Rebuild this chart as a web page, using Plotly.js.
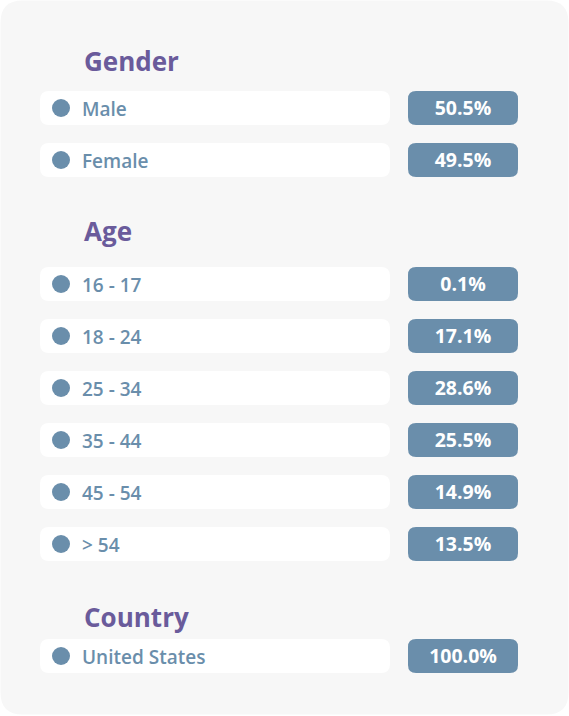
<!DOCTYPE html>
<html>
<head>
<meta charset="utf-8">
<script src="https://cdn.plot.ly/plotly-3.0.1.min.js"></script>
<style>
  html, body { margin: 0; padding: 0; background: #ffffff; }
  #chart { width: 569px; height: 716px; }
</style>
</head>
<body>
<div id="chart"></div>
<script>
// Datos
const groupTitles = ['Gender', 'Age', 'Country'];
const genderLabels = ['Male', 'Female'];
const genderValues = [50.5, 49.5];
const ageLabels = ['16 - 17', '18 - 24', '25 - 34', '35 - 44', '45 - 54', '> 54'];
const ageValues = [0.1, 17.1, 28.6, 25.5, 14.9, 13.5];
const countryLabels = ['United States'];
const countryValues = [100.0];

// Layout de las filas (unidades del eje = pixeles)
const headerY = [64, 234, 620];
const firstRowY = [108, 284, 656];
const rowStep = 52;
const rowH = 34;

const purple = '#6a5b9b';
const blue = '#6a8eab';
const font = 'Open Sans, sans-serif';

const groups = [
    [genderLabels, genderValues],
    [ageLabels, ageValues],
    [countryLabels, countryValues]
];

let rowYs = [], rowLabels = [], rowTexts = [];
groups.forEach((g, gi) => {
    g[0].forEach((lab, i) => {
        rowYs.push(firstRowY[gi] + i * rowStep);
        rowLabels.push(lab);
        rowTexts.push(g[1][i].toFixed(1) + '%');
    });
});

function roundRect(x0, y0, x1, y1, r) {
    return 'M' + (x0 + r) + ',' + y0 +
        ' L' + (x1 - r) + ',' + y0 + ' Q' + x1 + ',' + y0 + ' ' + x1 + ',' + (y0 + r) +
        ' L' + x1 + ',' + (y1 - r) + ' Q' + x1 + ',' + y1 + ' ' + (x1 - r) + ',' + y1 +
        ' L' + (x0 + r) + ',' + y1 + ' Q' + x0 + ',' + y1 + ' ' + x0 + ',' + (y1 - r) +
        ' L' + x0 + ',' + (y0 + r) + ' Q' + x0 + ',' + y0 + ' ' + (x0 + r) + ',' + y0 + ' Z';
}

// Tarjeta de fondo
let shapes = [{
    type: 'path', xref: 'x', yref: 'y', layer: 'below',
    path: roundRect(0.5, 0.5, 568.5, 714.5, 22),
    fillcolor: '#f7f7f7', line: {width: 0}
}];

rowYs.forEach(y => {
    shapes.push({
        type: 'path', xref: 'x', yref: 'y', layer: 'below',
        path: roundRect(40, y - rowH / 2, 390, y + rowH / 2, 9),
        fillcolor: '#ffffff', line: {width: 0}
    });
    shapes.push({
        type: 'path', xref: 'x', yref: 'y', layer: 'below',
        path: roundRect(408, y - rowH / 2, 518, y + rowH / 2, 8),
        fillcolor: blue, line: {width: 0}
    });
});

var headers = {
    x: groupTitles.map(() => 84),
    y: headerY,
    text: groupTitles,
    mode: 'text',
    type: 'scatter',
    textposition: 'middle right',
    textfont: {family: font, size: 26, color: purple, weight: 700},
    hoverinfo: 'skip'
};

var dots = {
    x: rowYs.map(() => 61),
    y: rowYs,
    mode: 'markers',
    type: 'scatter',
    marker: {size: 18, color: blue},
    hoverinfo: 'skip'
};

var labels = {
    x: rowYs.map(() => 82),
    y: rowYs.map(y => y + 3),
    text: rowLabels,
    mode: 'text',
    type: 'scatter',
    textposition: 'middle right',
    textfont: {family: font, size: 19, color: blue, weight: 600},
    hoverinfo: 'skip'
};

var valores = {
    x: rowYs.map(() => 463),
    y: rowYs.map(y => y + 2),
    text: rowTexts,
    mode: 'text',
    type: 'scatter',
    textposition: 'middle center',
    textfont: {family: font, size: 19.5, color: '#ffffff', weight: 700},
    hoverinfo: 'skip'
};

var layout = {
    width: 569,
    height: 716,
    margin: {l: 0, r: 0, t: 0, b: 0},
    paper_bgcolor: '#ffffff',
    plot_bgcolor: '#ffffff',
    showlegend: false,
    xaxis: {range: [0, 569], visible: false, fixedrange: true},
    yaxis: {range: [716, 0], visible: false, fixedrange: true},
    shapes: shapes
};

Plotly.newPlot('chart', [dots, headers, labels, valores], layout, {displayModeBar: false, staticPlot: true});
</script>
</body>
</html>
